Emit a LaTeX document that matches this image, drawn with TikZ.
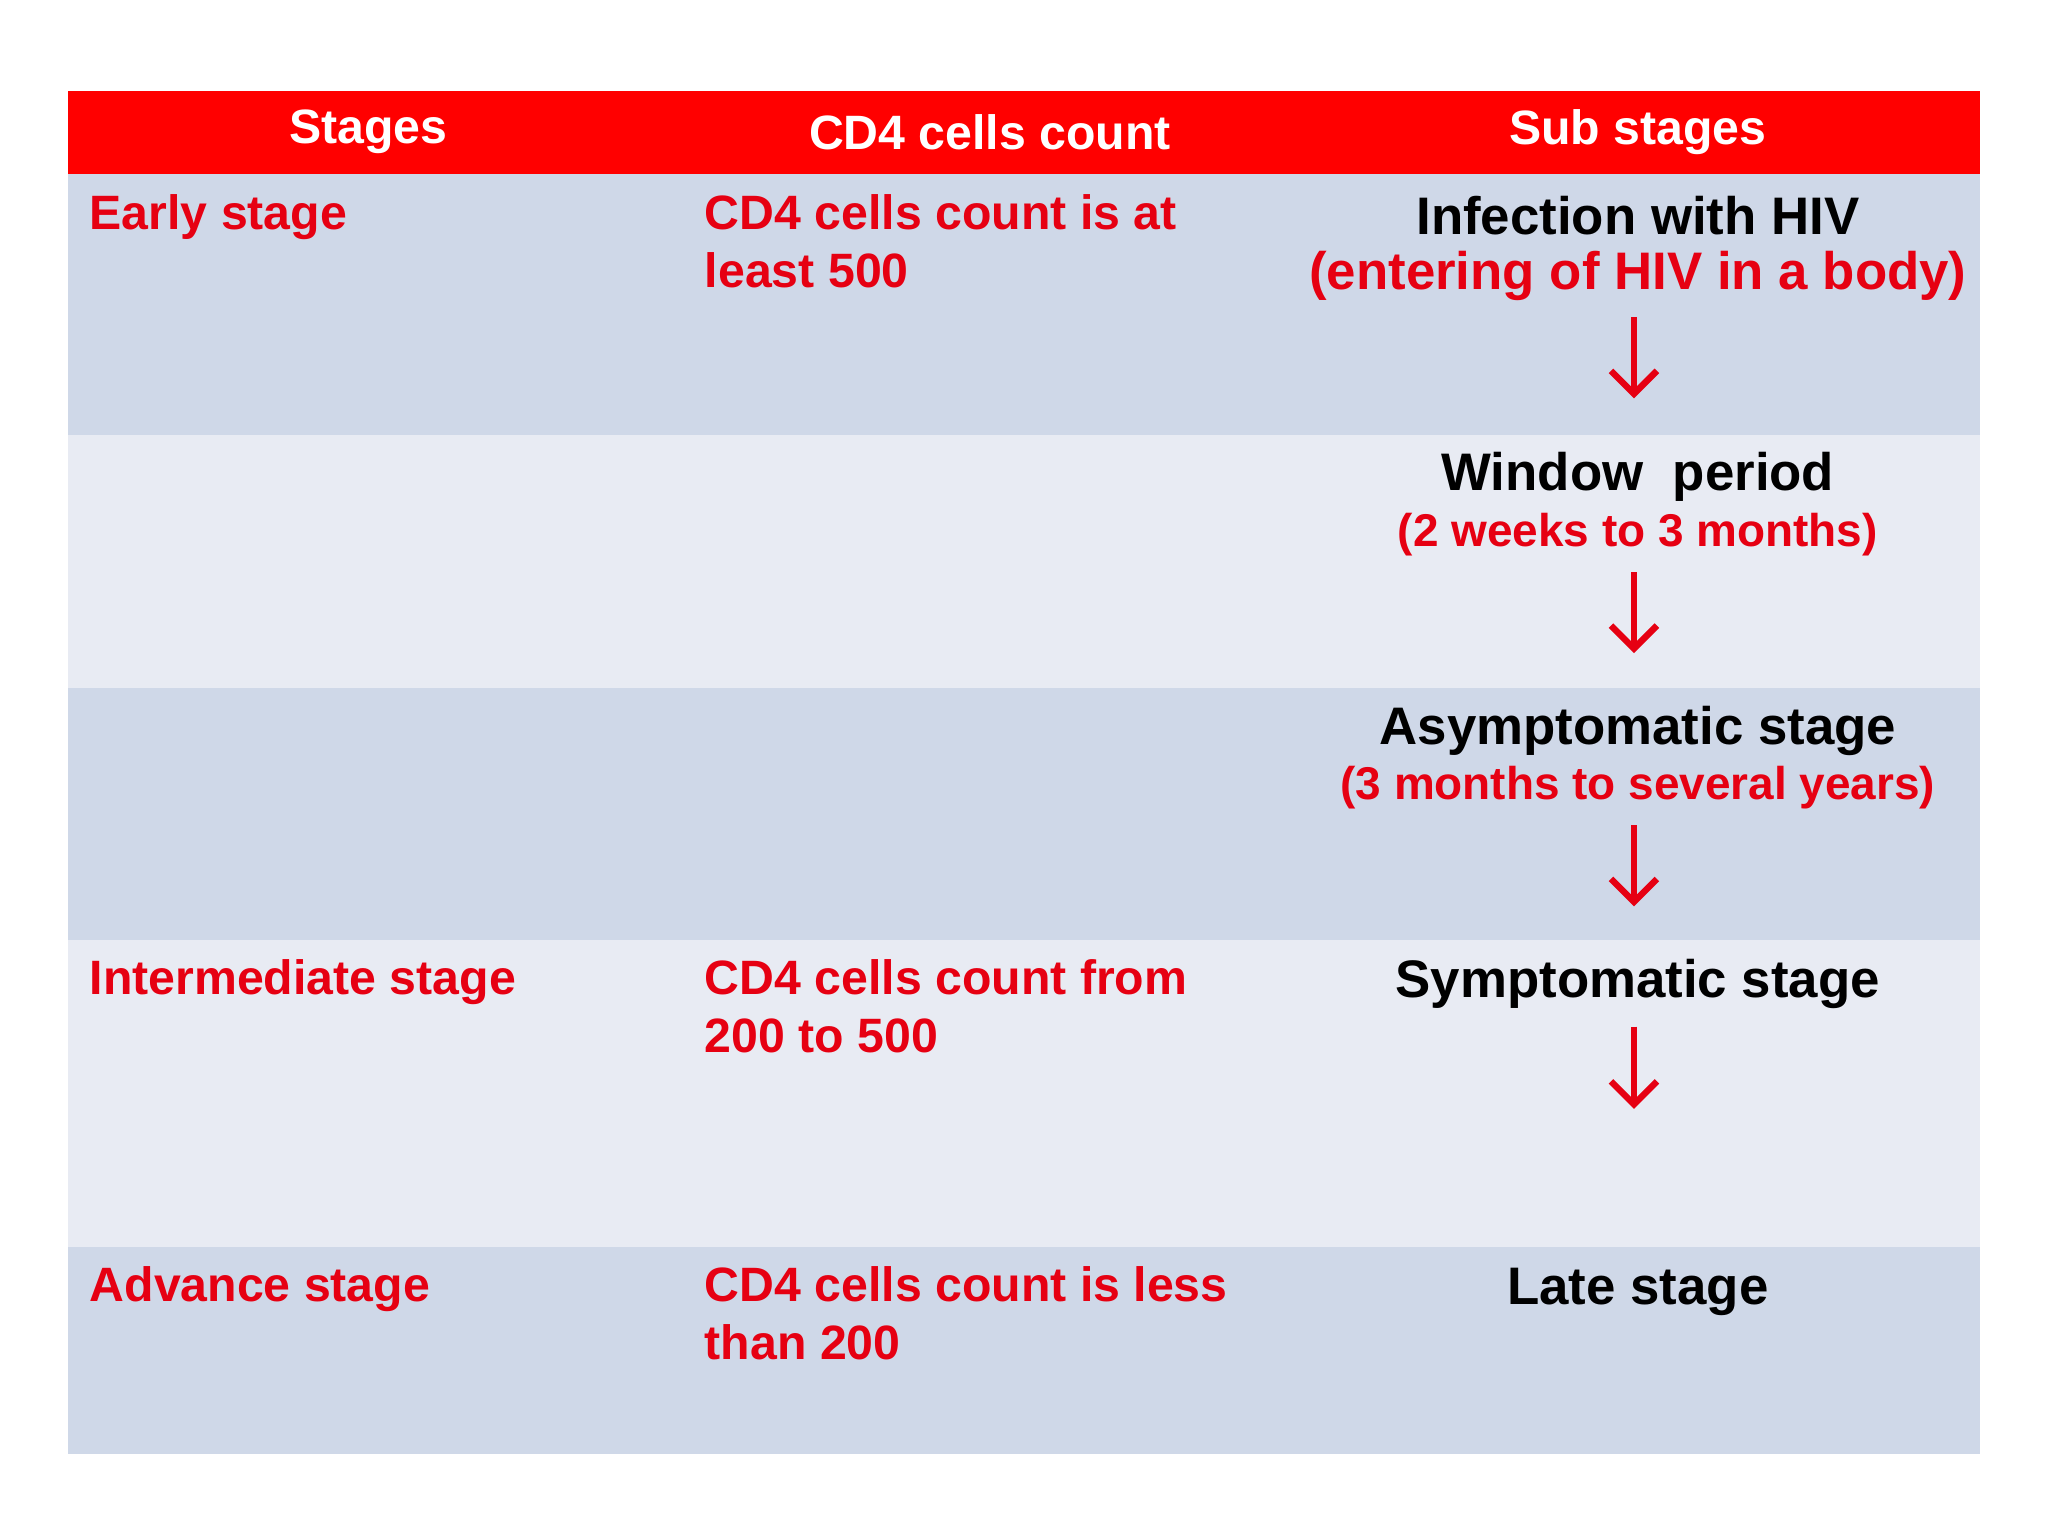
\documentclass[tikz,border=0pt]{standalone}
\usepackage{fontspec}
\setmainfont{Liberation Sans}
\usetikzlibrary{arrows.meta}
\definecolor{hdr}{RGB}{255, 0, 0}
\definecolor{dark}{RGB}{207, 216, 232}
\definecolor{pale}{RGB}{232, 235, 243}
\definecolor{txt}{RGB}{230, 0, 18}

\begin{document}
\begin{tikzpicture}[x=0.01cm, y=-0.01cm,
  head/.style={white, font=\bfseries\fontsize{10.5}{12}\selectfont},
  lefttxt/.style={txt, anchor=north west, align=left, inner sep=0, font=\bfseries\fontsize{10.5}{12.6}\selectfont},
  subtxt/.style={align=center, inner sep=0, font=\bfseries\fontsize{11.5}{13}\selectfont},
  flow/.style={txt, line width=1.4pt, -{Straight Barb[length=5pt, width=10pt]}}]
  \useasboundingbox (0, 0) rectangle (1568, 1176);
  \fill[white] (0, 0) rectangle (1568, 1176);

  % bands
  \fill[hdr] (52, 70) rectangle (1516, 133);
  \fill[dark] (52, 133) rectangle (1516, 333);
  \fill[pale] (52, 333) rectangle (1516, 527);
  \fill[dark] (52, 527) rectangle (1516, 720);
  \fill[pale] (52, 720) rectangle (1516, 955);
  \fill[dark] (52, 955) rectangle (1516, 1113);

  % header
  \node[head] (hstage) at (282, 101) {Stages};
  \node[head] (hcount) at (758, 101) {CD4 cells count};
  \node[head] (hsub) at (1254, 101) {Sub stages};

  % stages
  \node[lefttxt] (early) at (68, 148) {Early stage};
  \node[lefttxt] (inter) at (68, 734) {Intermediate stage};
  \node[lefttxt] (adv) at (68, 969) {Advance stage};

  % counts
  \node[lefttxt] (cearly) at (539, 148) {CD4 cells count is at\\least 500};
  \node[lefttxt] (cinter) at (539, 734) {CD4 cells count from\\200 to 500};
  \node[lefttxt] (cadv) at (539, 969) {CD4 cells count is less\\than 200};

  % sub stages
  \node[subtxt] (infect) at (1254, 190) {Infection with HIV\\[-1pt]{\color{txt}(entering of HIV in a body)}};
  \node[subtxt] (window) at (1254, 386) {Window\ \ period\\[-1pt]{\color{txt}\fontsize{10}{12}\selectfont(2 weeks to 3 months)}};
  \node[subtxt] (asym) at (1254, 580) {Asymptomatic stage\\[-1pt]{\color{txt}\fontsize{10}{12}\selectfont(3 months to several years)}};
  \node[subtxt] (sym) at (1254, 753) {Symptomatic stage};
  \node[subtxt] (late) at (1254, 989) {Late stage};

  % arrows
  \foreach \n/\a/\b in {1/243/305, 2/438/500, 3/632/694, 4/786/849} {
    \coordinate (s\n) at (1251, \a);
    \coordinate (e\n) at (1251, \b);
    \draw[flow] (s\n) -- (e\n);
  }
\end{tikzpicture}
\end{document}
